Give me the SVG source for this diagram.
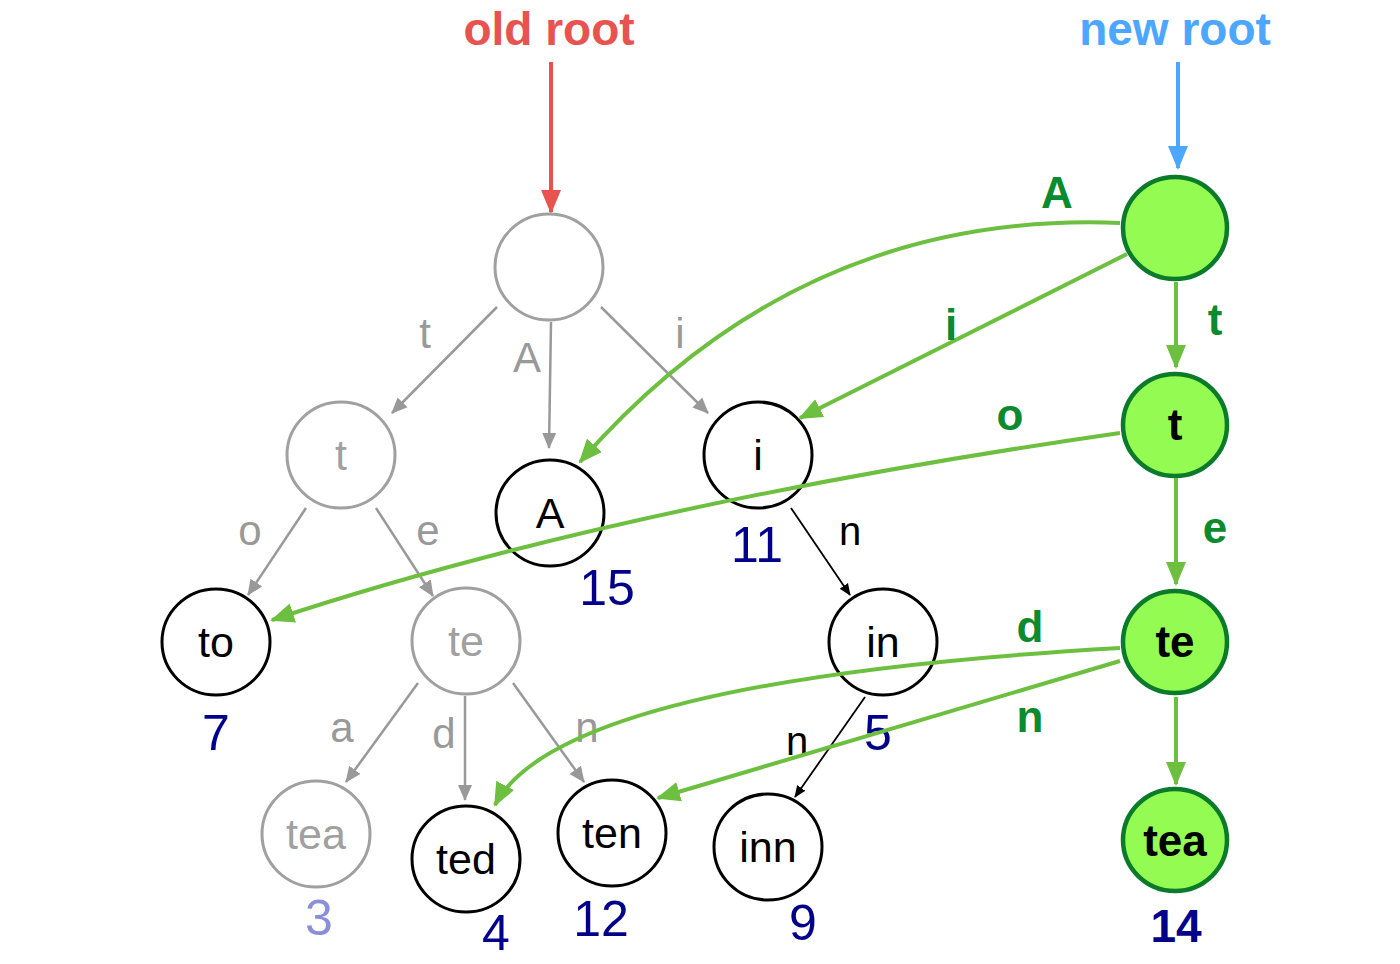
<svg xmlns="http://www.w3.org/2000/svg" width="1400" height="964" viewBox="0 0 1400 964">
<defs>
<marker id="ag" markerWidth="16" markerHeight="16" refX="15" refY="8" orient="auto" markerUnits="userSpaceOnUse" viewBox="0 0 16 16"><path d="M0,1 L16,8 L0,15 Z" fill="#999"/></marker>
<marker id="ab" markerWidth="12" markerHeight="12" refX="11" refY="6" orient="auto" markerUnits="userSpaceOnUse" viewBox="0 0 12 12"><path d="M0,1 L12,6 L0,11 Z" fill="#000"/></marker>
<marker id="agr" markerWidth="24" markerHeight="24" refX="22" refY="12" orient="auto" markerUnits="userSpaceOnUse" viewBox="0 0 24 24"><path d="M0,2 L24,12 L0,22 Z" fill="#6cbf3f"/></marker>
<marker id="ar" markerWidth="24" markerHeight="24" refX="22" refY="12" orient="auto" markerUnits="userSpaceOnUse" viewBox="0 0 24 24"><path d="M0,2 L24,12 L0,22 Z" fill="#e8524f"/></marker>
<marker id="abl" markerWidth="24" markerHeight="24" refX="22" refY="12" orient="auto" markerUnits="userSpaceOnUse" viewBox="0 0 24 24"><path d="M0,2 L24,12 L0,22 Z" fill="#4da6ff"/></marker>
</defs>
<style>
text{font-family:"Liberation Sans",Arial,sans-serif;text-anchor:middle}
.gn{fill:#fff;stroke:#a0a0a0;stroke-width:3}
.bn{fill:#fff;stroke:#000;stroke-width:3}
.grn{fill:#94fb52;stroke:#0b7a2a;stroke-width:4.5}
.gt{fill:#a0a0a0;font-size:43px}
.bt{fill:#000;font-size:43px}
.grt{fill:#000;font-size:44px;font-weight:bold}
.num{fill:#00008b;font-size:50px}
.el{fill:#999;font-size:42px}
.ebl{fill:#000;font-size:40px}
.egl{fill:#0b8a2e;font-size:44px;font-weight:bold}
.ge{stroke:#999;stroke-width:2.5;fill:none;marker-end:url(#ag)}
.be{stroke:#000;stroke-width:1.8;fill:none;marker-end:url(#ab)}
.gre{stroke:#6cbf3f;stroke-width:4;fill:none;marker-end:url(#agr)}
</style>
<g id="labels">
<text x="549" y="45" style="fill:#e8524f;font-size:46px;font-weight:bold">old root</text>
<text x="1175" y="45" style="fill:#4da6ff;font-size:46px;font-weight:bold">new root</text>
</g>
<g id="connectors-old">
<line x1="551" y1="62" x2="551" y2="212" stroke="#e8524f" stroke-width="4" marker-end="url(#ar)"/>
<line x1="1178" y1="62" x2="1178" y2="168" stroke="#4da6ff" stroke-width="4" marker-end="url(#abl)"/>
<line class="ge" x1="497" y1="307" x2="392" y2="413"/>
<line class="ge" x1="551" y1="322" x2="549" y2="448"/>
<line class="ge" x1="601" y1="307" x2="708" y2="413"/>
<line class="ge" x1="306" y1="508" x2="248" y2="595"/>
<line class="ge" x1="376" y1="508" x2="433" y2="596"/>
<line class="ge" x1="418" y1="683" x2="346" y2="782"/>
<line class="ge" x1="465" y1="696" x2="465" y2="800"/>
<line class="ge" x1="513" y1="683" x2="584" y2="782"/>
<line class="be" x1="791" y1="508" x2="850" y2="595"/>
<line class="be" x1="865" y1="697" x2="795" y2="797"/>
<text class="el" x="425" y="348">t</text>
<text class="el" x="527" y="372">A</text>
<text class="el" x="680" y="348">i</text>
<text class="el" x="250" y="545">o</text>
<text class="el" x="428" y="545">e</text>
<text class="el" x="342" y="742">a</text>
<text class="el" x="444" y="748">d</text>
<text class="el" x="587" y="742">n</text>
<text class="ebl" x="850" y="545">n</text>
<text class="ebl" x="797" y="755">n</text>
</g>
<g id="n-root"><ellipse class="gn" cx="549" cy="267" rx="54" ry="53"/></g>
<g id="n-t"><ellipse class="gn" cx="341" cy="455" rx="54" ry="53"/><text class="gt" x="341" y="470">t</text></g>
<g id="n-A"><ellipse class="bn" cx="550" cy="513" rx="54" ry="53"/><text class="bt" x="550" y="528">A</text><text class="num" x="607" y="605">15</text></g>
<g id="n-i"><ellipse class="bn" cx="758" cy="455" rx="54" ry="53"/><text class="bt" x="758" y="470">i</text><text class="num" x="757" y="562">11</text></g>
<g id="n-to"><ellipse class="bn" cx="216" cy="642" rx="54" ry="53"/><text class="bt" x="216" y="657">to</text><text class="num" x="216" y="750">7</text></g>
<g id="n-te"><ellipse class="gn" cx="466" cy="641" rx="54" ry="53"/><text class="gt" x="466" y="656">te</text></g>
<g id="n-in"><ellipse class="bn" cx="883" cy="642" rx="54" ry="53"/><text class="bt" x="883" y="657">in</text><text class="num" x="878" y="750">5</text></g>
<g id="n-tea-old"><ellipse class="gn" cx="316" cy="834" rx="54" ry="53"/><text class="gt" x="316" y="849">tea</text><text class="num" x="319" y="935" style="fill:#8a8fd8">3</text></g>
<g id="n-ted"><ellipse class="bn" cx="466" cy="859" rx="54" ry="53"/><text class="bt" x="466" y="874">ted</text><text class="num" x="496" y="950">4</text></g>
<g id="n-ten"><ellipse class="bn" cx="612" cy="833" rx="54" ry="53"/><text class="bt" x="612" y="848">ten</text><text class="num" x="601" y="936">12</text></g>
<g id="n-inn"><ellipse class="bn" cx="768" cy="847" rx="54" ry="53"/><text class="bt" x="768" y="862">inn</text><text class="num" x="803" y="940">9</text></g>
<g id="g-root"><ellipse class="grn" cx="1175" cy="228" rx="52" ry="51"/></g>
<g id="g-t"><ellipse class="grn" cx="1175" cy="425" rx="52" ry="51"/><text class="grt" x="1175" y="440">t</text></g>
<g id="g-te"><ellipse class="grn" cx="1175" cy="642" rx="52" ry="51"/><text class="grt" x="1175" y="657">te</text></g>
<g id="g-tea"><ellipse class="grn" cx="1175" cy="840" rx="52" ry="51"/><text class="grt" x="1175" y="856">tea</text><text class="num" x="1176" y="942" style="font-weight:bold;font-size:46px">14</text></g>
<g id="connectors-new">
<line class="gre" x1="1176" y1="282" x2="1176" y2="367"/>
<line class="gre" x1="1176" y1="478" x2="1176" y2="584"/>
<line class="gre" x1="1176" y1="697" x2="1176" y2="784"/>
<path class="gre" d="M1120,223 Q800,210 580,462"/>
<path class="gre" d="M1127,254 L800,418"/>
<path class="gre" d="M1120,433 Q620,505 272,620"/>
<path class="gre" d="M1120,648 Q560,680 495,805"/>
<path class="gre" d="M1120,661 L658,798"/>
<text class="egl" x="1057" y="208">A</text>
<text class="egl" x="951" y="340">i</text>
<text class="egl" x="1010" y="430">o</text>
<text class="egl" x="1030" y="642">d</text>
<text class="egl" x="1030" y="732">n</text>
<text class="egl" x="1215" y="335">t</text>
<text class="egl" x="1215" y="543">e</text>
</g>
</svg>
